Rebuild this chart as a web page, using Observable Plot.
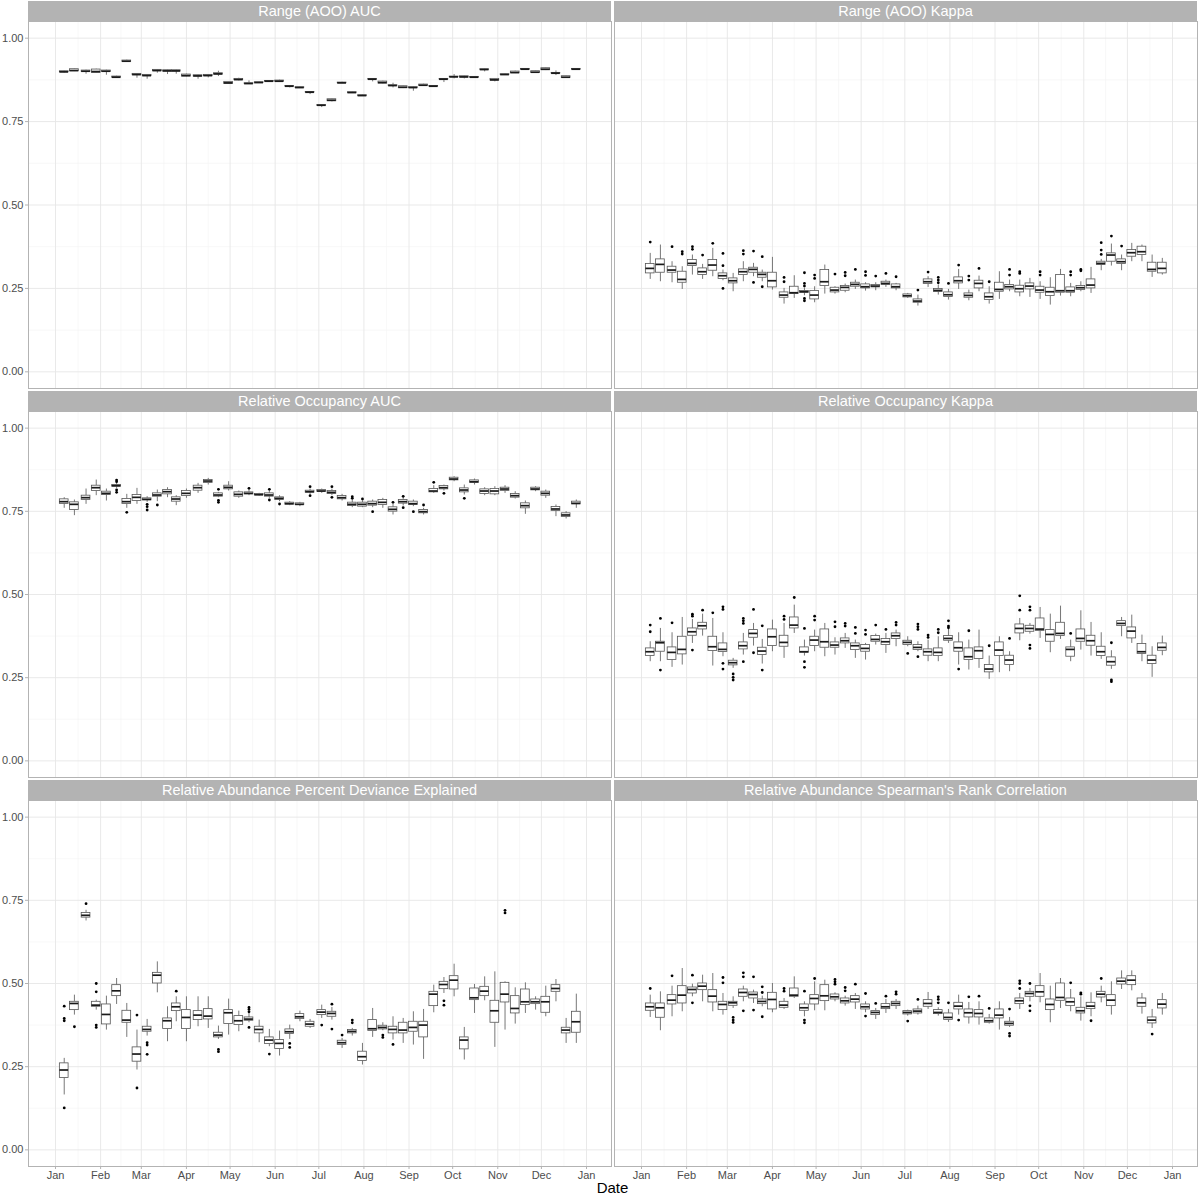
<!DOCTYPE html>
<html><head><meta charset="utf-8">
<script src="https://cdn.jsdelivr.net/npm/d3@7"></script>
<script src="https://cdn.jsdelivr.net/npm/@observablehq/plot@0.6"></script>
<style>
body{margin:0;background:#fff;font-family:"Liberation Sans",Arial,sans-serif;}
#chart{position:relative;width:1200px;height:1200px;overflow:hidden;}
.strip{position:absolute;height:20px;background:#b3b3b3;color:#fff;font-size:14.5px;line-height:20px;text-align:center;white-space:nowrap;}
.panel{position:absolute;}
#xtitle{position:absolute;left:0;width:1225px;top:1179px;text-align:center;font-size:15px;color:#000;}
</style></head><body><div id="chart"></div><script>
// ---- data ----
const panelTitles = ["Range (AOO) AUC","Range (AOO) Kappa","Relative Occupancy AUC","Relative Occupancy Kappa","Relative Abundance Percent Deviance Explained","Relative Abundance Spearman's Rank Correlation"];
const monthTicks = ["2015-01-01","2015-02-01","2015-03-01","2015-04-01","2015-05-01","2015-06-01","2015-07-01","2015-08-01","2015-09-01","2015-10-01","2015-11-01","2015-12-01","2016-01-01"];
const yTicks = [0, 0.25, 0.5, 0.75, 1];
const yMinorTicks = [0.125, 0.375, 0.625, 0.875];
const weekDates = ["2015-01-07","2015-01-14","2015-01-22","2015-01-29","2015-02-05","2015-02-12","2015-02-19","2015-02-26","2015-03-05","2015-03-12","2015-03-19","2015-03-25","2015-04-01","2015-04-09","2015-04-16","2015-04-23","2015-04-30","2015-05-07","2015-05-14","2015-05-21","2015-05-28","2015-06-04","2015-06-11","2015-06-18","2015-06-25","2015-07-03","2015-07-10","2015-07-17","2015-07-24","2015-07-31","2015-08-07","2015-08-14","2015-08-21","2015-08-28","2015-09-04","2015-09-11","2015-09-18","2015-09-25","2015-10-02","2015-10-09","2015-10-16","2015-10-23","2015-10-30","2015-11-06","2015-11-13","2015-11-20","2015-11-27","2015-12-04","2015-12-11","2015-12-18","2015-12-25"];

// each row: [lower whisker, Q1, median, Q3, upper whisker]
const rangeAucStats = [
[0.896,0.898,0.899,0.901,0.902],[0.900,0.901,0.903,0.907,0.908],[0.892,0.899,0.901,0.903,0.904],[0.895,0.896,0.900,0.906,0.907],[0.889,0.899,0.901,0.903,0.904],
[0.881,0.882,0.883,0.885,0.886],[0.928,0.929,0.931,0.933,0.934],[0.880,0.889,0.891,0.893,0.894],[0.877,0.886,0.888,0.890,0.891],[0.895,0.901,0.903,0.905,0.906],
[0.891,0.900,0.902,0.904,0.905],[0.892,0.900,0.902,0.904,0.905],[0.884,0.885,0.888,0.891,0.892],[0.877,0.885,0.887,0.889,0.890],[0.881,0.886,0.888,0.890,0.891],
[0.885,0.891,0.893,0.895,0.901],[0.862,0.863,0.866,0.869,0.870],[0.872,0.874,0.876,0.878,0.880],[0.862,0.863,0.864,0.865,0.872],[0.865,0.866,0.867,0.868,0.869],
[0.869,0.870,0.871,0.872,0.873],[0.869,0.870,0.871,0.873,0.874],[0.851,0.855,0.856,0.857,0.858],[0.850,0.851,0.852,0.853,0.854],[0.831,0.837,0.838,0.839,0.840],
[0.792,0.797,0.799,0.800,0.801],[0.809,0.811,0.814,0.817,0.818],[0.864,0.865,0.866,0.867,0.868],[0.835,0.836,0.837,0.838,0.839],[0.826,0.827,0.828,0.829,0.830],
[0.869,0.876,0.877,0.878,0.879],[0.863,0.864,0.867,0.870,0.871],[0.851,0.857,0.858,0.859,0.865],[0.849,0.850,0.853,0.856,0.857],[0.841,0.851,0.852,0.853,0.854],
[0.856,0.857,0.859,0.861,0.862],[0.854,0.855,0.856,0.857,0.858],[0.867,0.876,0.877,0.878,0.879],[0.878,0.883,0.884,0.885,0.891],[0.878,0.882,0.884,0.886,0.887],
[0.881,0.882,0.883,0.884,0.885],[0.899,0.905,0.906,0.907,0.908],[0.869,0.873,0.875,0.878,0.879],[0.889,0.890,0.891,0.892,0.893],[0.894,0.895,0.897,0.900,0.901],
[0.905,0.906,0.907,0.908,0.909],[0.895,0.896,0.898,0.901,0.902],[0.903,0.904,0.907,0.910,0.911],[0.888,0.894,0.895,0.896,0.902],[0.880,0.881,0.883,0.886,0.887],
[0.905,0.906,0.907,0.908,0.909]];
const rangeAucOutliers = [];

const rangeKappaStats = [
[0.277,0.295,0.310,0.323,0.355],[0.270,0.297,0.322,0.337,0.380],[0.267,0.297,0.305,0.315,0.330],[0.247,0.267,0.277,0.300,0.315],[0.290,0.317,0.325,0.335,0.350],
[0.277,0.290,0.300,0.310,0.322],[0.285,0.303,0.320,0.335,0.370],[0.273,0.278,0.288,0.295,0.305],[0.240,0.265,0.273,0.280,0.295],[0.270,0.290,0.300,0.307,0.330],
[0.285,0.297,0.307,0.312,0.325],[0.270,0.282,0.292,0.297,0.305],[0.245,0.253,0.273,0.297,0.343],[0.203,0.222,0.230,0.238,0.250],[0.220,0.233,0.237,0.255,0.288],
[0.228,0.237,0.240,0.242,0.250],[0.207,0.217,0.230,0.242,0.255],[0.233,0.257,0.270,0.305,0.320],[0.233,0.238,0.245,0.252,0.255],[0.237,0.243,0.253,0.257,0.263],
[0.247,0.255,0.262,0.267,0.275],[0.242,0.250,0.255,0.262,0.267],[0.243,0.253,0.257,0.260,0.267],[0.253,0.260,0.265,0.270,0.275],[0.243,0.250,0.255,0.262,0.265],
[0.220,0.223,0.228,0.232,0.235],[0.197,0.207,0.212,0.217,0.230],[0.253,0.263,0.270,0.277,0.285],[0.230,0.239,0.244,0.248,0.260],[0.215,0.224,0.231,0.238,0.247],
[0.247,0.265,0.273,0.283,0.307],[0.213,0.222,0.229,0.235,0.245],[0.240,0.250,0.265,0.273,0.287],[0.203,0.215,0.225,0.235,0.255],[0.217,0.240,0.247,0.267,0.300],
[0.240,0.247,0.255,0.260,0.275],[0.225,0.238,0.249,0.258,0.275],[0.223,0.247,0.257,0.265,0.280],[0.217,0.237,0.245,0.255,0.270],[0.200,0.227,0.240,0.252,0.282],
[0.227,0.237,0.243,0.290,0.307],[0.225,0.237,0.243,0.253,0.265],[0.240,0.245,0.252,0.257,0.270],[0.235,0.250,0.260,0.277,0.313],[0.303,0.320,0.325,0.330,0.337],
[0.317,0.330,0.350,0.355,0.383],[0.303,0.323,0.330,0.337,0.350],[0.330,0.345,0.357,0.365,0.385],[0.330,0.350,0.360,0.375,0.380],[0.283,0.300,0.307,0.327,0.350],
[0.290,0.295,0.310,0.327,0.340]];
const rangeKappaOutliers = [[1,0.389],[3,0.375],[4,0.360],[4,0.353],[5,0.375],[5,0.367],[6,0.350],[7,0.385],[8,0.355],[8,0.318],[8,0.250],[10,0.363],[10,0.353],[11,0.362],[11,0.268],[12,0.345],[12,0.255],[14,0.283],[14,0.270],[16,0.297],[16,0.265],[16,0.257],[16,0.220],[16,0.213],[17,0.290],[17,0.280],[19,0.293],[20,0.298],[20,0.288],[21,0.307],[22,0.300],[22,0.289],[23,0.287],[24,0.295],[25,0.285],[27,0.245],[28,0.299],[29,0.283],[29,0.275],[29,0.267],[30,0.265],[31,0.320],[32,0.287],[32,0.275],[33,0.310],[34,0.270],[36,0.307],[36,0.290],[37,0.300],[37,0.295],[39,0.300],[39,0.290],[42,0.300],[42,0.290],[43,0.307],[43,0.303],[45,0.387],[45,0.365],[45,0.352],[46,0.407],[47,0.377]];

const occAucStats = [
[0.759,0.772,0.779,0.786,0.791],[0.737,0.754,0.771,0.777,0.784],[0.771,0.784,0.791,0.797,0.817],[0.797,0.811,0.821,0.827,0.844],[0.781,0.799,0.804,0.809,0.817],
[0.819,0.824,0.827,0.829,0.834],[0.759,0.772,0.779,0.787,0.801],[0.771,0.781,0.792,0.799,0.819],[0.777,0.783,0.786,0.789,0.794],[0.779,0.794,0.799,0.804,0.814],
[0.791,0.801,0.809,0.814,0.821],[0.767,0.779,0.787,0.792,0.797],[0.789,0.796,0.804,0.811,0.817],[0.804,0.812,0.821,0.827,0.834],[0.829,0.835,0.841,0.844,0.849],
[0.791,0.794,0.799,0.804,0.807],[0.811,0.816,0.822,0.827,0.839],[0.789,0.794,0.801,0.807,0.811],[0.797,0.801,0.804,0.807,0.814],[0.796,0.798,0.800,0.802,0.804],
[0.789,0.794,0.799,0.804,0.811],[0.779,0.784,0.789,0.792,0.797],[0.767,0.770,0.773,0.776,0.779],[0.764,0.769,0.771,0.774,0.777],[0.801,0.806,0.809,0.812,0.817],
[0.804,0.809,0.811,0.814,0.817],[0.797,0.802,0.807,0.811,0.817],[0.781,0.786,0.791,0.796,0.801],[0.761,0.766,0.771,0.776,0.784],[0.761,0.764,0.771,0.776,0.781],
[0.761,0.767,0.773,0.779,0.784],[0.759,0.769,0.777,0.784,0.789],[0.739,0.749,0.756,0.762,0.771],[0.766,0.773,0.779,0.784,0.791],[0.764,0.769,0.773,0.779,0.784],
[0.739,0.744,0.749,0.754,0.759],[0.804,0.807,0.811,0.817,0.827],[0.811,0.816,0.821,0.826,0.829],[0.839,0.843,0.847,0.851,0.854],[0.799,0.807,0.814,0.819,0.829],
[0.829,0.835,0.839,0.843,0.847],[0.797,0.802,0.811,0.816,0.821],[0.797,0.801,0.811,0.817,0.824],[0.804,0.811,0.817,0.821,0.827],[0.787,0.791,0.797,0.802,0.809],
[0.741,0.759,0.767,0.774,0.781],[0.809,0.813,0.817,0.821,0.824],[0.789,0.797,0.804,0.809,0.814],[0.734,0.751,0.757,0.763,0.769],[0.727,0.733,0.739,0.744,0.749],
[0.759,0.771,0.774,0.779,0.784]];
const occAucOutliers = [[6,0.844],[6,0.839],[6,0.814],[6,0.807],[7,0.747],[9,0.771],[9,0.764],[9,0.754],[10,0.769],[16,0.816],[16,0.783],[16,0.777],[19,0.819],[21,0.816],[21,0.784],[22,0.772],[25,0.824],[25,0.797],[27,0.824],[27,0.792],[29,0.794],[29,0.789],[30,0.787],[31,0.749],[33,0.777],[34,0.795],[34,0.761],[35,0.749],[36,0.769],[37,0.837],[38,0.804],[40,0.789]];

const occKappaStats = [
[0.298,0.315,0.328,0.338,0.358],[0.298,0.328,0.355,0.358,0.398],[0.281,0.303,0.326,0.341,0.385],[0.288,0.320,0.335,0.373,0.431],[0.353,0.376,0.388,0.398,0.425],
[0.375,0.395,0.406,0.415,0.441],[0.285,0.330,0.343,0.373,0.428],[0.313,0.327,0.335,0.353,0.385],[0.278,0.287,0.295,0.301,0.308],[0.318,0.335,0.346,0.356,0.383],
[0.345,0.370,0.383,0.393,0.413],[0.291,0.318,0.330,0.340,0.365],[0.328,0.345,0.373,0.395,0.423],[0.308,0.343,0.356,0.376,0.413],[0.383,0.398,0.408,0.431,0.468],
[0.315,0.325,0.328,0.341,0.363],[0.328,0.345,0.363,0.373,0.393],[0.313,0.340,0.358,0.395,0.413],[0.318,0.340,0.348,0.356,0.370],[0.338,0.353,0.361,0.368,0.383],
[0.308,0.333,0.346,0.353,0.363],[0.303,0.328,0.338,0.348,0.353],[0.348,0.358,0.365,0.375,0.381],[0.323,0.348,0.358,0.366,0.383],[0.343,0.366,0.376,0.383,0.393],
[0.343,0.348,0.356,0.361,0.373],[0.328,0.333,0.341,0.348,0.358],[0.298,0.316,0.328,0.335,0.363],[0.298,0.315,0.326,0.338,0.373],[0.353,0.361,0.368,0.375,0.395],
[0.288,0.328,0.340,0.356,0.385],[0.273,0.303,0.313,0.338,0.363],[0.278,0.306,0.331,0.341,0.393],[0.245,0.266,0.276,0.288,0.315],[0.265,0.315,0.333,0.356,0.373],
[0.268,0.288,0.303,0.316,0.328],[0.361,0.383,0.398,0.410,0.428],[0.381,0.388,0.398,0.406,0.413],[0.368,0.390,0.396,0.428,0.461],[0.325,0.358,0.380,0.393,0.441],
[0.365,0.375,0.383,0.415,0.465],[0.298,0.313,0.335,0.341,0.363],[0.333,0.358,0.368,0.395,0.451],[0.315,0.346,0.361,0.376,0.416],[0.305,0.315,0.328,0.343,0.385],
[0.275,0.286,0.298,0.311,0.331],[0.373,0.405,0.413,0.420,0.431],[0.353,0.368,0.390,0.401,0.438],[0.298,0.321,0.328,0.351,0.378],[0.251,0.291,0.303,0.316,0.343],
[0.316,0.331,0.341,0.353,0.375]];
const occKappaOutliers = [[1,0.408],[1,0.388],[2,0.428],[2,0.273],[3,0.415],[5,0.441],[5,0.435],[5,0.333],[6,0.453],[7,0.445],[8,0.463],[8,0.455],[8,0.293],[8,0.276],[9,0.261],[9,0.251],[9,0.243],[10,0.428],[10,0.421],[10,0.413],[10,0.298],[11,0.455],[11,0.325],[12,0.406],[12,0.273],[14,0.435],[14,0.425],[15,0.491],[16,0.398],[16,0.298],[16,0.281],[17,0.435],[17,0.423],[19,0.418],[19,0.403],[20,0.413],[20,0.405],[21,0.401],[21,0.383],[22,0.393],[22,0.380],[23,0.408],[24,0.395],[25,0.416],[25,0.408],[26,0.323],[27,0.411],[27,0.403],[27,0.395],[27,0.313],[28,0.378],[28,0.371],[29,0.395],[29,0.385],[30,0.421],[30,0.405],[30,0.400],[31,0.276],[32,0.391],[34,0.346],[36,0.368],[37,0.496],[37,0.453],[38,0.463],[38,0.453],[38,0.348],[38,0.338],[42,0.383],[46,0.355],[46,0.243],[46,0.238]];

const devianceStats = [
[0.165,0.216,0.240,0.260,0.275],[0.405,0.420,0.440,0.445,0.465],[0.688,0.698,0.705,0.712,0.720],[0.420,0.430,0.435,0.445,0.450],[0.360,0.377,0.407,0.437,0.462],
[0.437,0.462,0.478,0.495,0.515],[0.338,0.382,0.390,0.418,0.440],[0.240,0.265,0.288,0.308,0.360],[0.342,0.355,0.362,0.370,0.392],[0.472,0.500,0.525,0.532,0.565],
[0.325,0.363,0.388,0.395,0.430],[0.385,0.417,0.430,0.440,0.460],[0.325,0.363,0.398,0.420,0.460],[0.370,0.390,0.405,0.417,0.460],[0.365,0.392,0.402,0.423,0.460],
[0.332,0.338,0.345,0.352,0.372],[0.345,0.378,0.412,0.420,0.453],[0.355,0.375,0.388,0.402,0.417],[0.382,0.388,0.393,0.398,0.410],[0.322,0.350,0.362,0.370,0.390],
[0.310,0.318,0.330,0.338,0.362],[0.282,0.303,0.320,0.330,0.357],[0.332,0.348,0.355,0.362,0.375],[0.385,0.393,0.400,0.408,0.417],[0.365,0.370,0.378,0.385,0.392],
[0.395,0.405,0.414,0.420,0.435],[0.390,0.400,0.410,0.415,0.428],[0.305,0.315,0.322,0.328,0.335],[0.342,0.350,0.356,0.360,0.365],[0.255,0.267,0.280,0.295,0.320],
[0.338,0.357,0.364,0.390,0.425],[0.358,0.362,0.368,0.373,0.382],[0.330,0.350,0.362,0.370,0.400],[0.320,0.350,0.360,0.382,0.395],[0.315,0.355,0.368,0.385,0.415],
[0.272,0.338,0.375,0.385,0.422],[0.412,0.432,0.468,0.475,0.495],[0.470,0.483,0.497,0.505,0.518],[0.460,0.482,0.510,0.522,0.558],[0.270,0.302,0.330,0.338,0.368],
[0.410,0.450,0.457,0.485,0.497],[0.448,0.462,0.477,0.490,0.520],[0.308,0.382,0.418,0.448,0.535],[0.360,0.443,0.468,0.502,0.505],[0.378,0.410,0.425,0.462,0.487],
[0.410,0.435,0.445,0.482,0.502],[0.420,0.438,0.445,0.452,0.460],[0.400,0.412,0.445,0.460,0.492],[0.445,0.475,0.485,0.495,0.512],[0.320,0.350,0.360,0.367,0.395],
[0.320,0.352,0.385,0.415,0.468]];
const devianceOutliers = [[1,0.432],[1,0.395],[1,0.388],[1,0.126],[2,0.370],[3,0.740],[4,0.500],[4,0.475],[4,0.375],[4,0.368],[8,0.405],[8,0.186],[9,0.322],[9,0.315],[9,0.287],[12,0.477],[16,0.302],[16,0.295],[19,0.428],[19,0.422],[19,0.415],[19,0.368],[21,0.288],[23,0.320],[23,0.308],[26,0.375],[27,0.438],[27,0.363],[28,0.345],[29,0.390],[29,0.382],[32,0.345],[32,0.338],[33,0.317],[38,0.448],[38,0.435],[44,0.720],[44,0.712]];

const spearmanStats = [
[0.398,0.418,0.430,0.440,0.465],[0.358,0.397,0.427,0.440,0.475],[0.400,0.437,0.450,0.465,0.492],[0.415,0.440,0.465,0.492,0.545],[0.460,0.470,0.482,0.488,0.498],
[0.445,0.480,0.492,0.500,0.525],[0.415,0.443,0.462,0.480,0.530],[0.405,0.420,0.437,0.445,0.470],[0.425,0.433,0.442,0.445,0.460],[0.445,0.460,0.473,0.482,0.492],
[0.440,0.455,0.467,0.473,0.480],[0.430,0.438,0.446,0.452,0.462],[0.412,0.422,0.452,0.472,0.500],[0.422,0.427,0.435,0.445,0.455],[0.455,0.460,0.465,0.485,0.520],
[0.400,0.418,0.427,0.437,0.445],[0.418,0.437,0.455,0.465,0.505],[0.418,0.447,0.463,0.495,0.510],[0.445,0.452,0.460,0.467,0.472],[0.432,0.440,0.448,0.455,0.462],
[0.422,0.443,0.453,0.462,0.470],[0.412,0.422,0.430,0.437,0.445],[0.392,0.405,0.413,0.417,0.425],[0.410,0.423,0.430,0.438,0.452],[0.422,0.432,0.440,0.445,0.452],
[0.402,0.407,0.413,0.417,0.420],[0.405,0.410,0.417,0.422,0.432],[0.422,0.430,0.440,0.450,0.473],[0.402,0.408,0.413,0.420,0.427],[0.383,0.390,0.398,0.410,0.422],
[0.405,0.422,0.432,0.442,0.465],[0.378,0.398,0.412,0.422,0.443],[0.375,0.398,0.410,0.420,0.445],[0.378,0.382,0.388,0.395,0.407],[0.360,0.395,0.405,0.422,0.445],
[0.368,0.373,0.380,0.385,0.398],[0.422,0.438,0.448,0.455,0.470],[0.445,0.460,0.470,0.475,0.485],[0.442,0.460,0.475,0.492,0.530],[0.382,0.420,0.437,0.452,0.492],
[0.425,0.448,0.458,0.500,0.515],[0.415,0.432,0.445,0.455,0.482],[0.387,0.410,0.418,0.427,0.460],[0.400,0.423,0.432,0.442,0.472],[0.442,0.458,0.468,0.475,0.492],
[0.405,0.432,0.450,0.465,0.505],[0.482,0.497,0.507,0.515,0.538],[0.478,0.495,0.510,0.522,0.538],[0.408,0.430,0.442,0.455,0.470],[0.365,0.380,0.390,0.398,0.422],
[0.405,0.425,0.438,0.450,0.470]];
const spearmanOutliers = [[1,0.485],[3,0.523],[5,0.525],[5,0.442],[8,0.518],[8,0.502],[9,0.398],[9,0.390],[9,0.383],[10,0.532],[10,0.520],[10,0.418],[11,0.520],[11,0.420],[12,0.490],[12,0.473],[12,0.400],[14,0.485],[14,0.477],[16,0.477],[16,0.390],[16,0.382],[17,0.515],[19,0.512],[19,0.505],[19,0.498],[20,0.488],[20,0.478],[21,0.498],[22,0.470],[22,0.402],[23,0.440],[24,0.462],[25,0.475],[25,0.468],[26,0.387],[27,0.452],[29,0.460],[29,0.452],[29,0.442],[30,0.442],[31,0.390],[32,0.460],[33,0.462],[34,0.425],[36,0.423],[36,0.350],[36,0.342],[37,0.508],[37,0.500],[37,0.485],[38,0.500],[38,0.433],[38,0.418],[42,0.502],[43,0.472],[43,0.468],[44,0.388],[45,0.515],[50,0.348]];

// ---- drawing ----
const DAY = 864e5;
const dates = weekDates.map(s => new Date(s + "T00:00:00Z"));
const months = monthTicks.map(s => new Date(s + "T00:00:00Z"));
const minorX = months.slice(1).map((m, i) => new Date((m.getTime() + months[i].getTime()) / 2));
const xDomain = [new Date(months[0].getTime() - 18.56 * DAY), new Date(months[12].getTime() + 17.18 * DAY)];
const halfW = 3.0 * DAY;
const boxStroke = "#555555";

const panels = [
  {title: panelTitles[0], stats: rangeAucStats, outliers: rangeAucOutliers},
  {title: panelTitles[1], stats: rangeKappaStats, outliers: rangeKappaOutliers},
  {title: panelTitles[2], stats: occAucStats, outliers: occAucOutliers},
  {title: panelTitles[3], stats: occKappaStats, outliers: occKappaOutliers},
  {title: panelTitles[4], stats: devianceStats, outliers: devianceOutliers},
  {title: panelTitles[5], stats: spearmanStats, outliers: spearmanOutliers}
];

const rowTops = [{strip: 1, svg: 20, h: 367}, {strip: 391, svg: 410, h: 366}, {strip: 780, svg: 799, h: 366}];
const chart = document.getElementById("chart");

panels.forEach((p, idx) => {
  const col = idx % 2, row = Math.floor(idx / 2);
  const showY = col === 0, showX = row === 2;
  const rows = p.stats.map((s, i) => ({date: dates[i], lo: s[0], q1: s[1], med: s[2], q3: s[3], hi: s[4]}));
  const outs = p.outliers.map(([w, v]) => ({date: dates[w - 1], v}));
  const marginLeft = showY ? 28 : 0;
  const marginBottom = showX ? 22 : 1;
  const marks = [
    Plot.gridY({ticks: yMinorTicks, stroke: "#f3f3f3", strokeOpacity: 1, strokeWidth: 0.6}),
    Plot.gridX({ticks: minorX, stroke: "#f3f3f3", strokeOpacity: 1, strokeWidth: 0.6}),
    Plot.gridY({ticks: yTicks, stroke: "#e6e6e6", strokeOpacity: 1, strokeWidth: 0.9}),
    Plot.gridX({ticks: months, stroke: "#e6e6e6", strokeOpacity: 1, strokeWidth: 0.9}),
    Plot.ruleX(rows, {x: "date", y1: "q3", y2: "hi", stroke: boxStroke, strokeWidth: 0.8}),
    Plot.ruleX(rows, {x: "date", y1: "lo", y2: "q1", stroke: boxStroke, strokeWidth: 0.8}),
    Plot.rect(rows, {x1: d => new Date(d.date.getTime() - halfW), x2: d => new Date(d.date.getTime() + halfW), y1: "q1", y2: "q3", fill: "white", stroke: boxStroke, strokeWidth: 0.8}),
    Plot.ruleY(rows, {y: "med", x1: d => new Date(d.date.getTime() - halfW), x2: d => new Date(d.date.getTime() + halfW), stroke: "#1a1a1a", strokeWidth: 1.7}),
    Plot.dot(outs, {x: "date", y: "v", r: 1.4, fill: "#000"}),
    Plot.frame({stroke: "#b3b3b3", strokeWidth: 1})
  ];
  if (showY) marks.push(Plot.axisY({ticks: yTicks, tickFormat: d3.format(".2f"), tickSize: 3, tickPadding: 2, stroke: "#b3b3b3", fill: "#4d4d4d", fontSize: 11, label: null}));
  if (showX) marks.push(Plot.axisX({ticks: months, tickFormat: d3.utcFormat("%b"), tickSize: 3, tickPadding: 2, stroke: "#b3b3b3", fill: "#4d4d4d", fontSize: 11, label: null}));
  const width = marginLeft + 583 + 1;
  const rt = rowTops[row];
  const svg = Plot.plot({
    width, height: 1 + rt.h + marginBottom,
    marginLeft, marginRight: 1, marginTop: 1, marginBottom,
    style: {fontFamily: "Liberation Sans, Arial, sans-serif", fontSize: "11px", background: "transparent", overflow: "visible"},
    x: Object.assign({type: "utc", domain: xDomain}, showX ? {} : {axis: null}),
    y: Object.assign({domain: [-0.05, 1.05]}, showY ? {} : {axis: null}),
    marks
  });
  const wrap = document.createElement("div");
  wrap.className = "panel";
  wrap.style.left = (col === 0 ? 0 : 614) + "px";
  wrap.style.top = rt.svg + "px";
  wrap.appendChild(svg);
  chart.appendChild(wrap);
  const strip = document.createElement("div");
  strip.className = "strip";
  strip.style.left = (col === 0 ? 28 : 614) + "px";
  strip.style.width = "583px";
  strip.style.top = rt.strip + "px";
  strip.textContent = p.title;
  chart.appendChild(strip);
});
const xt = document.createElement("div");
xt.id = "xtitle";
xt.textContent = "Date";
chart.appendChild(xt);
</script></body></html>
